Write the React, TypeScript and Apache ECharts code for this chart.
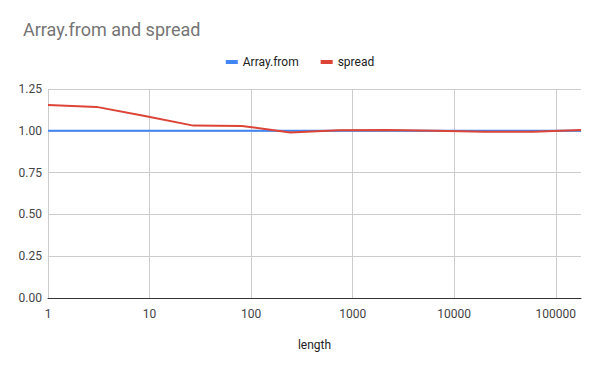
import React, { useEffect, useRef } from "react";
import * as echarts from "echarts";

const lengths = [1, 3, 9, 27, 81, 243, 729, 2187, 6561, 19683, 59049, 177147];
const arrayFromValues = [1, 1, 1, 1, 1, 1, 1, 1, 1, 1, 1, 1];
const spreadValues = [1.155, 1.143, 1.088, 1.031, 1.029, 0.99, 1.004, 1.005, 1.0, 0.994, 0.994, 1.005];
const yTicks = [0, 0.25, 0.5, 0.75, 1.0, 1.25];

export default function App() {
  const ref = useRef<HTMLDivElement>(null);
  useEffect(() => {
    if (!ref.current) return;
    const chart = echarts.init(ref.current, null, { renderer: "svg" });
    const font = "Roboto, Arial, sans-serif";
    chart.setOption({
      animation: false,
      backgroundColor: "#ffffff",
      textStyle: { fontFamily: font },
      title: {
        text: "Array.from and spread",
        left: 18,
        top: 15,
        textStyle: { fontSize: 18, fontWeight: "normal", color: "#757575", fontFamily: font },
      },
      legend: {
        top: 51,
        left: "center",
        icon: "rect",
        itemWidth: 12,
        itemHeight: 4,
        itemGap: 22,
        textStyle: { fontSize: 12, color: "#222222", fontFamily: font },
        data: ["Array.from", "spread"],
      },
      grid: { left: 48, right: 19, top: 89, bottom: 73, containLabel: false },
      xAxis: {
        type: "log",
        logBase: 10,
        min: 1,
        max: lengths[lengths.length - 1],
        name: "length",
        nameLocation: "middle",
        nameGap: 41,
        nameTextStyle: { fontSize: 12, color: "#222222", fontFamily: font },
        axisLine: { show: true, lineStyle: { color: "#333333", width: 1 } },
        axisTick: { show: false },
        axisLabel: {
          color: "#444444",
          fontSize: 12,
          margin: 10,
          showMaxLabel: false,
          formatter: (v: number) => String(Math.round(v)),
        },
        splitLine: { show: true, showMaxLine: false, lineStyle: { color: "#cccccc", width: 1 } },
      },
      yAxis: {
        type: "value",
        min: yTicks[0],
        max: yTicks[yTicks.length - 1],
        interval: 0.25,
        axisLine: { show: false },
        axisTick: { show: false },
        axisLabel: {
          color: "#444444",
          fontSize: 12,
          margin: 6,
          formatter: (v: number) => v.toFixed(2),
        },
        splitLine: { show: true, lineStyle: { color: "#cccccc", width: 1 } },
      },
      series: [
        {
          name: "Array.from",
          type: "line",
          data: lengths.map((x, i) => [x, arrayFromValues[i]]),
          showSymbol: false,
          symbol: "none",
          lineStyle: { color: "#4285f4", width: 2 },
          itemStyle: { color: "#4285f4" },
        },
        {
          name: "spread",
          type: "line",
          data: lengths.map((x, i) => [x, spreadValues[i]]),
          showSymbol: false,
          symbol: "none",
          lineStyle: { color: "#db4437", width: 2 },
          itemStyle: { color: "#db4437" },
        },
      ],
    });
    return () => chart.dispose();
  }, []);
  return <div ref={ref} style={{ width: 600, height: 371, position: "absolute", left: 0, top: 0 }} />;
}
